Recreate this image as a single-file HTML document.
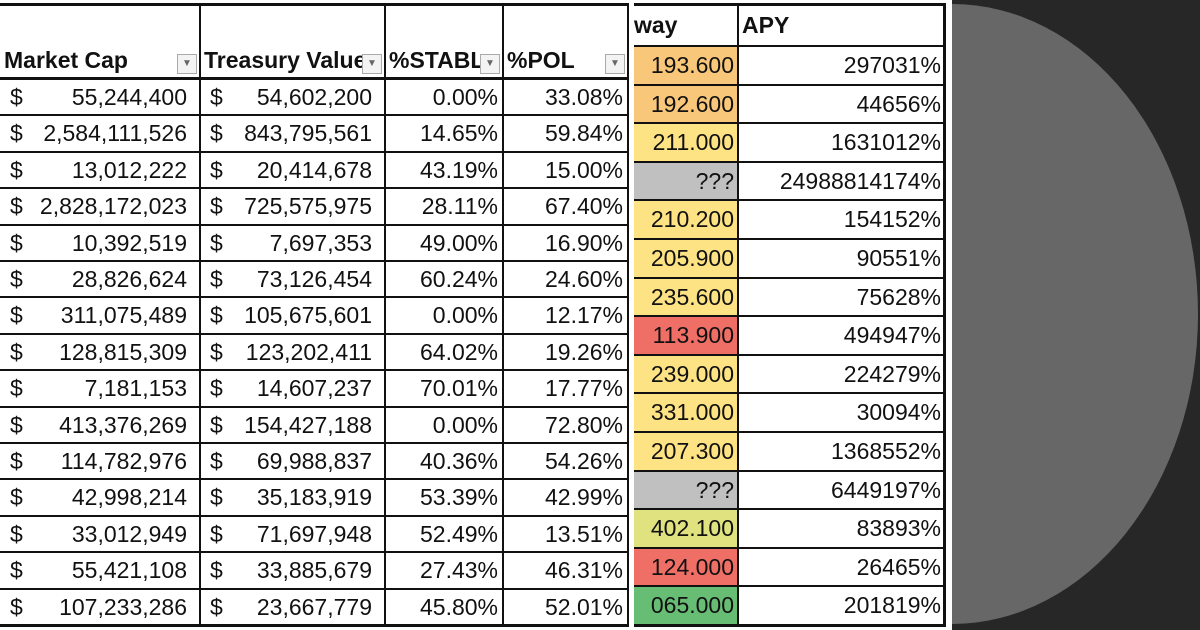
<!DOCTYPE html>
<html><head><meta charset="utf-8">
<style>
body{margin:0;width:1200px;height:630px;overflow:hidden;background:#fff;position:relative;font-family:"Liberation Sans",sans-serif;}
.c{position:absolute;box-sizing:border-box;font-size:23px;color:#111;white-space:nowrap;overflow:hidden;}
.l{position:absolute;background:#111;}
.dd{position:absolute;width:20px;height:20px;border:1px solid #aaa;background:#f3f3f3;box-sizing:border-box;font-size:10px;color:#666;text-align:center;line-height:18px;}
</style></head><body>
<div style="position:absolute;left:945px;top:0;width:255px;height:630px;background:#272727"></div>
<div style="position:absolute;left:945px;top:0;width:7px;height:630px;background:#fff"></div>
<svg style="position:absolute;left:0;top:0" width="1200" height="630"><path d="M952 4 A246 310 0 0 1 952 624 Z" fill="#676767"/></svg>
<div id="t"></div>
<script>
const mcap=["55,244,400","2,584,111,526","13,012,222","2,828,172,023","10,392,519","28,826,624","311,075,489","128,815,309","7,181,153","413,376,269","114,782,976","42,998,214","33,012,949","55,421,108","107,233,286"];
const treas=["54,602,200","843,795,561","20,414,678","725,575,975","7,697,353","73,126,454","105,675,601","123,202,411","14,607,237","154,427,188","69,988,837","35,183,919","71,697,948","33,885,679","23,667,779"];
const stable=["0.00%","14.65%","43.19%","28.11%","49.00%","60.24%","0.00%","64.02%","70.01%","0.00%","40.36%","53.39%","52.49%","27.43%","45.80%"];
const pol=["33.08%","59.84%","15.00%","67.40%","16.90%","24.60%","12.17%","19.26%","17.77%","72.80%","54.26%","42.99%","13.51%","46.31%","52.01%"];
const runway=["193.600","192.600","211.000","???","210.200","205.900","235.600","113.900","239.000","331.000","207.300","???","402.100","124.000","065.000"];
const runColors=["#f9c77a","#f9c77a","#fde384","#c0c0c0","#fde384","#fde384","#fde384","#ef6f66","#fde384","#fde384","#fde384","#c0c0c0","#dfe27e","#ef6f66","#68bd74"];
const apy=["297031%","44656%","1631012%","24988814174%","154152%","90551%","75628%","494947%","224279%","30094%","1368552%","6449197%","83893%","26465%","201819%"];
const T=document.getElementById('t');
function cell(x,y,w,h,txt,align,bg,bold,pad){const d=document.createElement('div');d.className='c';d.style.left=x+'px';d.style.top=y+'px';d.style.width=w+'px';d.style.height=h+'px';d.style.lineHeight=h+'px';d.style.textAlign=align;d.style.padding=pad||'0 4px';if(bg)d.style.background=bg;if(bold)d.style.fontWeight='bold';d.textContent=txt;T.appendChild(d);return d;}
function line(x,y,w,h){const d=document.createElement('div');d.className='l';d.style.left=x+'px';d.style.top=y+'px';d.style.width=w+'px';d.style.height=h+'px';T.appendChild(d);}
const LX=[0,200,385,503,628],LT=79,LP=36.4;
const hd=["Market Cap","Treasury Value","%STABLE","%POL"];
for(let i=0;i<4;i++){const h=cell(LX[i],40,LX[i+1]-LX[i]-22,40,hd[i],'left',null,true);


const dd=document.createElement('div');dd.className='dd';dd.style.left=(LX[i+1]-23)+'px';dd.style.top='54px';dd.textContent='▼';


T.appendChild(dd);}
for(let r=0;r<15;r++){const y=LT+r*LP;
const cols=[["$",mcap[r]],["$",treas[r]],[null,stable[r]],[null,pol[r]]];
for(let i=0;i<4;i++){
const c=cell(LX[i],y,LX[i+1]-LX[i],LP,cols[i][1],'right',null,false,cols[i][0]?'0 13px 0 4px':'0 5px 0 4px');


if(cols[i][0]){const s=cell(LX[i],y,40,LP,'$','left',null,false,'0 0 0 10px');

}}
line(0,y-1,628,2);}
line(0,3,628,3);line(0,77,628,3);line(0,624,628,3);
for(let i=1;i<5;i++)line(LX[i]-1,3,2,624);
const RX=[634,738,945],RT=46,RP=38.6;
const h1=cell(634,5,104,41,'way','left',null,true,'0 0 0 0');
const h2=cell(738,5,207,41,'APY','left',null,true);
for(let r=0;r<15;r++){const y=RT+r*RP;
const a=cell(634,y,104,RP,runway[r],'right',runColors[r]);


const b=cell(738,y,207,RP,apy[r],'right');


line(634,y-1,311,2);}
line(634,3,311,3);line(634,624,311,3);line(737,3,2,624);line(943,3,3,624);
</script>
</body></html>
